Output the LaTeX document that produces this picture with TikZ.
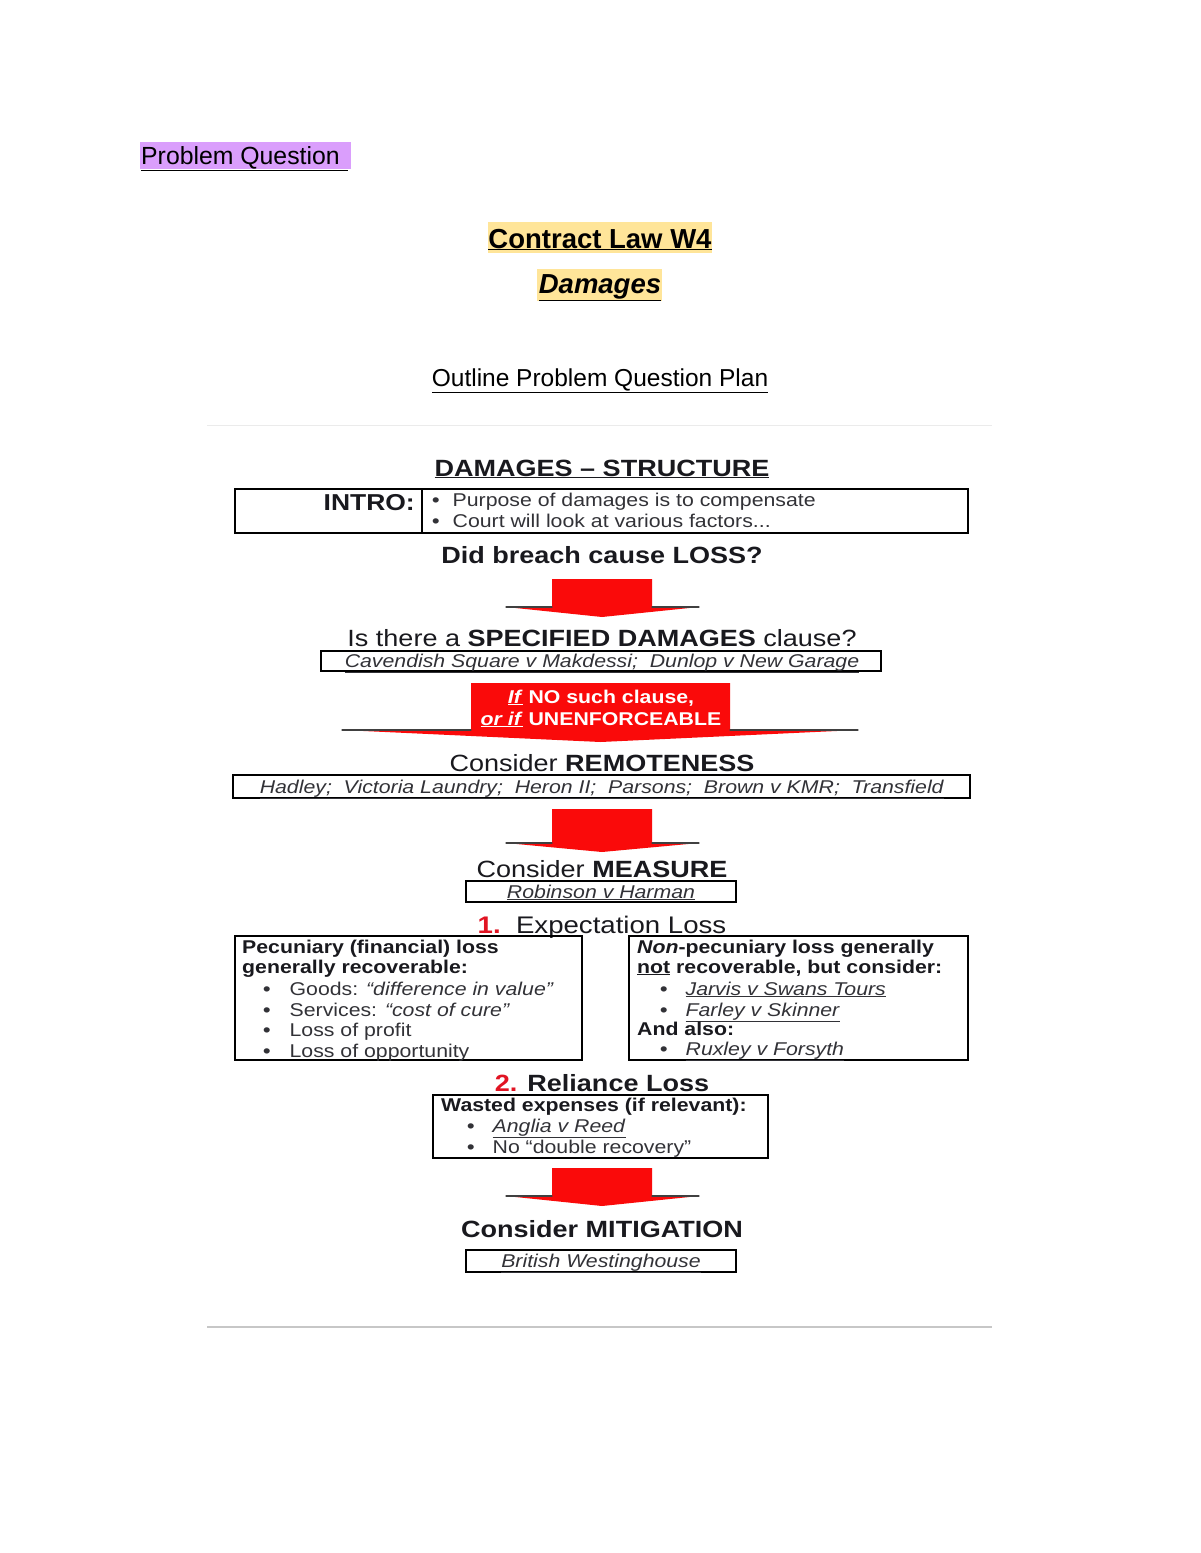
\documentclass[tikz,border=0pt]{standalone}
\usepackage{fontspec}
\setmainfont{Liberation Sans}
\newfontfamily\dg[FakeStretch=1.15,Ligatures=TeX]{Liberation Sans}
\definecolor{pqpurple}{RGB}{218,158,252}
\definecolor{hlyellow}{RGB}{255,229,153}
\definecolor{arrred}{RGB}{250,10,10}
\definecolor{numred}{RGB}{225,20,35}
\definecolor{txt}{RGB}{25,25,30}
\definecolor{smalltxt}{RGB}{50,50,55}
\newcommand\fs[1]{\fontsize{#1pt}{#1pt}\selectfont}
\newcommand\bul{{\bfseries •}}
\newcommand\bigarrow[7]{%
  \fill[arrred] (#1,#3) -- (#2,#3) -- (#2,#4) -- (#6,#4) -- ({(#1+#2)/2},#7) -- (#5,#4) -- (#1,#4) -- cycle;
  \draw[line width=1.3pt, black!75, line cap=round] (#5,#4) -- (#1,#4) (#2,#4) -- (#6,#4);
}
\tikzset{
  hdr/.style={inner sep=0pt, anchor=base, text=black},
  dgt/.style={inner sep=0pt, anchor=base, text=txt, font=\dg\fs{23.5}},
  sml/.style={inner sep=0pt, anchor=base, text=smalltxt, font=\dg\fs{18.5}},
  smlw/.style={sml, anchor=base west},
  smlb/.style={smlw, font=\dg\bfseries\fs{18.5}, text=txt},
  bx/.style={draw=black, line width=1.6pt},
}
\begin{document}
\begin{tikzpicture}[x=1pt,y=-1pt]
\useasboundingbox (0,0) rectangle (1200,1553);
% header
\fill[pqpurple] (140,142) rectangle (351,169);
\node[hdr, anchor=base west, font=\fs{24.8}] (pq) at (141,164) {\underline{Problem Question\hspace{8pt}}};
\fill[hlyellow] (488,222) rectangle (712,253);
\node[hdr, font=\bfseries\fs{27.5}] (cl) at (600,248) {\underline{Contract Law W4}};
\fill[hlyellow] (537,269) rectangle (662,301);
\node[hdr, font=\bfseries\itshape\fs{27.5}] (dm) at (600,293) {\underline{Damages}};
\node[hdr, font=\fs{24.5}] (op) at (600,386) {\underline{Outline Problem Question Plan}};
\draw[black!8, line width=1pt] (207,425) -- (992,425);
\draw[black!22, line width=1.2pt] (207,1327) -- (992,1327);
% title
\node[dgt, font=\dg\bfseries\fs{23.5}] (title) at (602,476) {\underline{DAMAGES – STRUCTURE}};
% intro
\draw[bx] (235,489) rectangle (968,533);
\draw[bx] (422,489) -- (422,533);
\node[dgt, anchor=base east, font=\dg\bfseries\fs{23}] (intro) at (415,510) {INTRO:};
\node[smlw] (ib1) at (432,506.5) {\bul\hspace{13pt}Purpose of damages is to compensate};
\node[smlw] (ib2) at (432,527.5) {\bul\hspace{13pt}Court will look at various factors...};
% loss
\node[dgt, font=\dg\bfseries\fs{23.5}] (loss) at (602,563) {Did breach cause LOSS?};
\bigarrow{552}{652}{579}{607}{506}{699}{617}
% specified
\node[dgt] (spec) at (602,646) {Is there a \textbf{SPECIFIED DAMAGES} clause?};
\draw[bx] (321,651) rectangle (881,671);
\node[sml] (cav) at (602,667) {\underline{\textit{Cavendish Square v Makdessi;\ \ Dunlop v New Garage}}};
\bigarrow{471}{730}{683}{730}{342}{858}{742}
\node[sml, text=white, font=\dg\bfseries\fs{18.5}] (no1) at (601,703) {\underline{\textit{If}} NO such clause,};
\node[sml, text=white, font=\dg\bfseries\fs{18.5}] (no2) at (601,725) {\underline{\textit{or if}} UNENFORCEABLE};
% remoteness
\node[dgt] (rem) at (602,771) {Consider \textbf{REMOTENESS}};
\draw[bx] (233,775) rectangle (970,798);
\node[sml] (had) at (602,793) {\underline{\textit{Hadley;\ \ Victoria Laundry;\ \ Heron II;\ \ Parsons;\ \ Brown v KMR;\ \ Transfield}}};
\bigarrow{552}{652}{809}{843}{506}{699}{852}
% measure
\node[dgt] (mea) at (602,877) {Consider \textbf{MEASURE}};
\draw[bx] (466,881) rectangle (736,902);
\node[sml] (rob) at (601,898) {\underline{\textit{Robinson v Harman}}};
\node[dgt, font=\dg\fs{24}] (exp) at (602,933) {{\bfseries\color{numred}1.}\ \ Expectation Loss};
% expectation boxes
\draw[bx] (235,936) rectangle (582,1060);
\node[smlb] (pe1) at (242,953) {Pecuniary (financial) loss};
\node[smlb] (pe2) at (242,973) {generally recoverable:};
\node[smlw] (pb1) at (263,995) {\bul\hspace{19pt}Goods: \textit{“difference in value”}};
\node[smlw] (pb2) at (263,1016) {\bul\hspace{19pt}Services: \textit{“cost of cure”}};
\node[smlw] (pb3) at (263,1036) {\bul\hspace{19pt}Loss of profit};
\node[smlw] (pb4) at (263,1057) {\bul\hspace{19pt}Loss of opportunity};
\draw[bx] (629,936) rectangle (968,1060);
\node[smlb] (np1) at (637,953) {\textit{Non}-pecuniary loss generally};
\node[smlb] (np2) at (637,973) {\underline{not} recoverable, but consider:};
\node[smlw] (nb1) at (660,995) {\bul\hspace{18pt}\underline{\textit{Jarvis v Swans Tours}}};
\node[smlw] (nb2) at (660,1016) {\bul\hspace{18pt}\underline{\textit{Farley v Skinner}}};
\node[smlb] (np3) at (637,1035) {And also:};
\node[smlw] (nb3) at (660,1055) {\bul\hspace{18pt}\underline{\textit{Ruxley v Forsyth}}};
% reliance
\node[dgt, font=\dg\bfseries\fs{23.5}] (rel) at (602,1091) {{\color{numred}2.} Reliance Loss};
\draw[bx] (433,1095) rectangle (768,1158);
\node[smlb] (wa) at (441,1111) {Wasted expenses (if relevant):};
\node[smlw] (wb1) at (467,1132) {\bul\hspace{18pt}\underline{\textit{Anglia v Reed}}};
\node[smlw] (wb2) at (467,1153) {\bul\hspace{18pt}No “double recovery”};
\bigarrow{552}{652}{1168}{1196}{506}{699}{1206}
% mitigation
\node[dgt, font=\dg\bfseries\fs{23.5}] (mit) at (602,1237) {Consider MITIGATION};
\draw[bx] (466,1250) rectangle (736,1272);
\node[sml] (bw) at (601,1267) {\underline{\textit{British Westinghouse}}};
\end{tikzpicture}
\end{document}
